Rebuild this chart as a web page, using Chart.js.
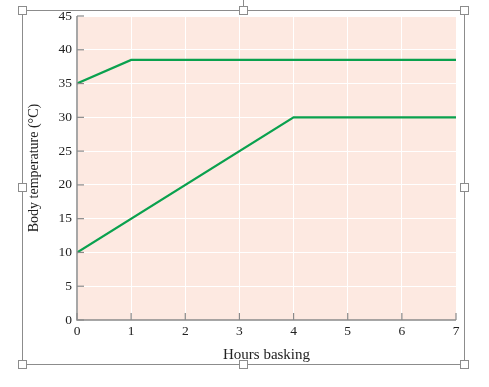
<!DOCTYPE html>
<html>
<head>
<meta charset="utf-8">
<script src="https://cdn.jsdelivr.net/npm/chart.js@4/dist/chart.umd.min.js"></script>
<style>
  html, body { margin: 0; padding: 0; background: #ffffff; }
  #wrap { width: 489px; height: 387px; position: relative; }
</style>
</head>
<body>
<div id="wrap"><canvas id="c" width="489" height="387"></canvas></div>
<script>
// ---- Data ----
const hoursUpper = [0, 1, 7];
const tempUpper = [35, 38.5, 38.5];
const hoursLower = [0, 4, 7];
const tempLower = [10, 30, 30];
const xTicks = [0, 1, 2, 3, 4, 5, 6, 7];
const yTicks = [0, 5, 10, 15, 20, 25, 30, 35, 40, 45];
const xTitle = 'Hours basking';
const yTitle = 'Body temperature (\u00B0C)';

const toPoints = (xs, ys) => xs.map((x, i) => ({ x: x, y: ys[i] }));

const FONT = "'Liberation Serif', 'DejaVu Serif', serif";
const AXIS_COLOR = '#8a8a8a';

// plot background + inward tick marks + frame with handles
const decor = {
  id: 'decor',
  beforeDraw(chart) {
    const { ctx, chartArea: a } = chart;
    ctx.save();
    ctx.fillStyle = '#fde9e1';
    ctx.fillRect(a.left, a.top, a.right - a.left + 1, a.bottom - a.top);
    ctx.restore();
  },
  afterDatasetsDraw(chart) {
    const { ctx, chartArea: a, scales } = chart;
    ctx.save();
    ctx.strokeStyle = AXIS_COLOR;
    ctx.lineWidth = 1.5;
    ctx.beginPath();
    ctx.moveTo(a.left, a.top);
    ctx.lineTo(a.left, a.bottom);
    ctx.lineTo(a.right, a.bottom);
    ctx.stroke();
    ctx.lineWidth = 1.2;
    yTicks.forEach(v => {
      const y = scales.y.getPixelForValue(v);
      ctx.beginPath(); ctx.moveTo(a.left, y); ctx.lineTo(a.left + 7, y); ctx.stroke();
    });
    xTicks.forEach(v => {
      const x = scales.x.getPixelForValue(v);
      ctx.beginPath(); ctx.moveTo(x, a.bottom); ctx.lineTo(x, a.bottom - 7); ctx.stroke();
    });
    ctx.restore();
  },
  afterDraw(chart) {
    const { ctx } = chart;
    const L = 22.5, R = 464.5, T = 10.5, B = 364.5, MX = 243.5, MY = 187.5;
    ctx.save();
    ctx.strokeStyle = '#8c8c8c';
    ctx.lineWidth = 1;
    ctx.strokeRect(L, T, R - L, B - T);
    ctx.beginPath(); ctx.moveTo(MX, 0); ctx.lineTo(MX, T); ctx.stroke();
    const hs = 8;
    [[L, T], [MX, T], [R, T], [L, MY], [R, MY], [L, B], [MX, B], [R, B]].forEach(([x, y]) => {
      ctx.fillStyle = '#ffffff';
      ctx.fillRect(x - hs / 2, y - hs / 2, hs, hs);
      ctx.strokeRect(x - hs / 2, y - hs / 2, hs, hs);
    });
    ctx.restore();
  }
};

const lineStyle = {
  borderColor: '#0aa14e',
  borderWidth: 2.2,
  pointRadius: 0,
  fill: false,
  tension: 0
};

new Chart(document.getElementById('c'), {
  type: 'line',
  data: {
    datasets: [
      Object.assign({ label: 'Upper', data: toPoints(hoursUpper, tempUpper) }, lineStyle),
      Object.assign({ label: 'Lower', data: toPoints(hoursLower, tempLower) }, lineStyle)
    ]
  },
  options: {
    responsive: false,
    animation: false,
    devicePixelRatio: 1,
    layout: { padding: { top: 16, right: 33, bottom: 0, left: 0 } },
    plugins: { legend: { display: false }, tooltip: { enabled: false } },
    scales: {
      x: {
        type: 'linear',
        min: 0, max: 7,
        afterBuildTicks: s => { s.ticks = xTicks.map(v => ({ value: v })); },
        afterFit: s => { s.height = 67; },
        grid: { color: '#ffffff', lineWidth: 1, drawTicks: false },
        border: { display: false },
        ticks: { color: '#222', padding: 3, font: { family: FONT, size: 13.5 } },
        title: { display: true, text: xTitle, color: '#222', font: { family: FONT, size: 15 }, padding: { top: 0, bottom: 23 } }
      },
      y: {
        type: 'linear',
        min: 0, max: 45,
        afterBuildTicks: s => { s.ticks = yTicks.map(v => ({ value: v })); },
        afterFit: s => { s.width = 77; },
        grid: { color: '#ffffff', lineWidth: 1, drawTicks: false },
        border: { display: false },
        ticks: { color: '#222', padding: 5, font: { family: FONT, size: 13.5 } },
        title: { display: true, text: yTitle, color: '#222', font: { family: FONT, size: 14 }, padding: { top: 26, bottom: 0 } }
      }
    }
  },
  plugins: [decor]
});
</script>
</body>
</html>
